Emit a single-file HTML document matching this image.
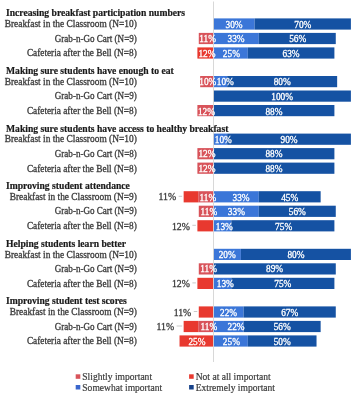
<!DOCTYPE html><html><head><meta charset="utf-8"><style>html,body{margin:0;padding:0;background:#fff;width:354px;height:400px;overflow:hidden}svg{display:block;will-change:transform;font-family:"Liberation Serif",serif}</style></head><body>
<svg width="354" height="400" viewBox="0 0 354 400">
<rect x="213.40" y="18.40" width="41.25" height="11.2" fill="#3b76d8"/>
<rect x="254.65" y="18.40" width="96.25" height="11.2" fill="#1552a3"/>
<rect x="213.40" y="32.90" width="45.38" height="11.2" fill="#3b76d8"/>
<rect x="258.77" y="32.90" width="77.00" height="11.2" fill="#1552a3"/>
<rect x="198.78" y="32.90" width="14.62" height="11.2" fill="#d8535a"/>
<rect x="213.40" y="47.40" width="34.38" height="11.2" fill="#3b76d8"/>
<rect x="247.78" y="47.40" width="86.62" height="11.2" fill="#1552a3"/>
<rect x="197.40" y="47.40" width="16.00" height="11.2" fill="#e8392f"/>
<rect x="213.40" y="76.00" width="13.75" height="11.2" fill="#3b76d8"/>
<rect x="227.15" y="76.00" width="110.00" height="11.2" fill="#1552a3"/>
<rect x="200.15" y="76.00" width="13.25" height="11.2" fill="#d8535a"/>
<rect x="213.40" y="90.50" width="137.50" height="11.2" fill="#1552a3"/>
<rect x="213.40" y="105.00" width="121.00" height="11.2" fill="#1552a3"/>
<rect x="197.40" y="105.00" width="16.00" height="11.2" fill="#d8535a"/>
<rect x="213.40" y="133.60" width="13.75" height="11.2" fill="#3b76d8"/>
<rect x="227.15" y="133.60" width="123.75" height="11.2" fill="#1552a3"/>
<rect x="213.40" y="148.10" width="121.00" height="11.2" fill="#1552a3"/>
<rect x="197.40" y="148.10" width="16.00" height="11.2" fill="#d8535a"/>
<rect x="213.40" y="162.60" width="121.00" height="11.2" fill="#1552a3"/>
<rect x="197.40" y="162.60" width="16.00" height="11.2" fill="#d8535a"/>
<rect x="213.40" y="191.20" width="45.38" height="11.2" fill="#3b76d8"/>
<rect x="258.77" y="191.20" width="61.88" height="11.2" fill="#1552a3"/>
<rect x="198.28" y="191.20" width="15.12" height="11.2" fill="#d8535a"/>
<rect x="183.65" y="191.20" width="14.62" height="11.2" fill="#e8392f"/>
<rect x="213.40" y="205.70" width="45.38" height="11.2" fill="#3b76d8"/>
<rect x="258.77" y="205.70" width="77.00" height="11.2" fill="#1552a3"/>
<rect x="198.78" y="205.70" width="14.62" height="11.2" fill="#d8535a"/>
<rect x="213.40" y="220.20" width="17.88" height="11.2" fill="#3b76d8"/>
<rect x="231.28" y="220.20" width="103.12" height="11.2" fill="#1552a3"/>
<rect x="197.40" y="220.20" width="16.00" height="11.2" fill="#e8392f"/>
<rect x="213.40" y="248.80" width="27.50" height="11.2" fill="#3b76d8"/>
<rect x="240.90" y="248.80" width="110.00" height="11.2" fill="#1552a3"/>
<rect x="213.40" y="263.30" width="122.38" height="11.2" fill="#1552a3"/>
<rect x="198.78" y="263.30" width="14.62" height="11.2" fill="#d8535a"/>
<rect x="213.40" y="277.80" width="17.88" height="11.2" fill="#3b76d8"/>
<rect x="231.28" y="277.80" width="103.12" height="11.2" fill="#1552a3"/>
<rect x="197.40" y="277.80" width="16.00" height="11.2" fill="#e8392f"/>
<rect x="213.40" y="306.40" width="30.25" height="11.2" fill="#3b76d8"/>
<rect x="243.65" y="306.40" width="92.12" height="11.2" fill="#1552a3"/>
<rect x="198.78" y="306.40" width="14.62" height="11.2" fill="#e8392f"/>
<rect x="213.40" y="320.90" width="30.25" height="11.2" fill="#3b76d8"/>
<rect x="243.65" y="320.90" width="77.00" height="11.2" fill="#1552a3"/>
<rect x="198.28" y="320.90" width="15.12" height="11.2" fill="#d8535a"/>
<rect x="183.65" y="320.90" width="14.62" height="11.2" fill="#e8392f"/>
<rect x="213.40" y="335.40" width="34.38" height="11.2" fill="#3b76d8"/>
<rect x="247.78" y="335.40" width="68.75" height="11.2" fill="#1552a3"/>
<rect x="179.53" y="335.40" width="33.88" height="11.2" fill="#e8392f"/>
<line x1="213.5" y1="1.5" x2="213.5" y2="362" stroke="#d4d4d4" stroke-width="0.9"/>
<text x="6" y="16.30" font-size="9.65" font-weight="bold" fill="#1a1a1a" stroke="#1a1a1a" stroke-width="0.2">Increasing breakfast participation numbers</text>
<text x="136.8" y="27.20" font-size="9.3" text-anchor="end" textLength="132.1" lengthAdjust="spacingAndGlyphs" fill="#3c3c3c" stroke="#3c3c3c" stroke-width="0.3">Breakfast in the Classroom (N=10)</text>
<text x="234.03" y="27.70" font-size="9.3" text-anchor="middle" fill="#fff" stroke="#fff" stroke-width="0.3">30%</text>
<text x="302.77" y="27.70" font-size="9.3" text-anchor="middle" fill="#fff" stroke="#fff" stroke-width="0.3">70%</text>
<text x="136.8" y="41.50" font-size="9.3" text-anchor="end" textLength="82.0" lengthAdjust="spacingAndGlyphs" fill="#3c3c3c" stroke="#3c3c3c" stroke-width="0.3">Grab-n-Go Cart (N=9)</text>
<text x="236.09" y="42.00" font-size="9.3" text-anchor="middle" fill="#fff" stroke="#fff" stroke-width="0.3">33%</text>
<text x="297.67" y="42.00" font-size="9.3" text-anchor="middle" fill="#fff" stroke="#fff" stroke-width="0.3">56%</text>
<text x="207.59" y="42.00" font-size="9.3" text-anchor="middle" fill="#fff" stroke="#fff" stroke-width="0.3">11%</text>
<text x="136.8" y="56.40" font-size="9.3" text-anchor="end" textLength="109.9" lengthAdjust="spacingAndGlyphs" fill="#3c3c3c" stroke="#3c3c3c" stroke-width="0.3">Cafeteria after the Bell (N=8)</text>
<text x="231.39" y="56.90" font-size="9.3" text-anchor="middle" fill="#fff" stroke="#fff" stroke-width="0.3">25%</text>
<text x="291.09" y="56.90" font-size="9.3" text-anchor="middle" fill="#fff" stroke="#fff" stroke-width="0.3">63%</text>
<text x="207.00" y="56.90" font-size="9.3" text-anchor="middle" fill="#fff" stroke="#fff" stroke-width="0.3">12%</text>
<text x="6" y="73.90" font-size="9.65" font-weight="bold" fill="#1a1a1a" stroke="#1a1a1a" stroke-width="0.2">Making sure students have enough to eat</text>
<text x="136.8" y="84.80" font-size="9.3" text-anchor="end" textLength="132.1" lengthAdjust="spacingAndGlyphs" fill="#3c3c3c" stroke="#3c3c3c" stroke-width="0.3">Breakfast in the Classroom (N=10)</text>
<text x="225.28" y="85.30" font-size="9.3" text-anchor="middle" fill="#fff" stroke="#fff" stroke-width="0.3">10%</text>
<text x="282.15" y="85.30" font-size="9.3" text-anchor="middle" fill="#fff" stroke="#fff" stroke-width="0.3">80%</text>
<text x="207.78" y="85.30" font-size="9.3" text-anchor="middle" fill="#fff" stroke="#fff" stroke-width="0.3">10%</text>
<text x="136.8" y="99.10" font-size="9.3" text-anchor="end" textLength="82.0" lengthAdjust="spacingAndGlyphs" fill="#3c3c3c" stroke="#3c3c3c" stroke-width="0.3">Grab-n-Go Cart (N=9)</text>
<text x="282.15" y="99.60" font-size="9.3" text-anchor="middle" fill="#fff" stroke="#fff" stroke-width="0.3">100%</text>
<text x="136.8" y="114.00" font-size="9.3" text-anchor="end" textLength="109.9" lengthAdjust="spacingAndGlyphs" fill="#3c3c3c" stroke="#3c3c3c" stroke-width="0.3">Cafeteria after the Bell (N=8)</text>
<text x="273.90" y="114.50" font-size="9.3" text-anchor="middle" fill="#fff" stroke="#fff" stroke-width="0.3">88%</text>
<text x="206.50" y="114.50" font-size="9.3" text-anchor="middle" fill="#fff" stroke="#fff" stroke-width="0.3">12%</text>
<text x="6" y="131.50" font-size="9.65" font-weight="bold" fill="#1a1a1a" stroke="#1a1a1a" stroke-width="0.2">Making sure students have access to healthy breakfast</text>
<text x="136.8" y="142.40" font-size="9.3" text-anchor="end" textLength="132.1" lengthAdjust="spacingAndGlyphs" fill="#3c3c3c" stroke="#3c3c3c" stroke-width="0.3">Breakfast in the Classroom (N=10)</text>
<text x="223.28" y="142.90" font-size="9.3" text-anchor="middle" fill="#fff" stroke="#fff" stroke-width="0.3">10%</text>
<text x="289.02" y="142.90" font-size="9.3" text-anchor="middle" fill="#fff" stroke="#fff" stroke-width="0.3">90%</text>
<text x="136.8" y="156.70" font-size="9.3" text-anchor="end" textLength="82.0" lengthAdjust="spacingAndGlyphs" fill="#3c3c3c" stroke="#3c3c3c" stroke-width="0.3">Grab-n-Go Cart (N=8)</text>
<text x="273.90" y="157.20" font-size="9.3" text-anchor="middle" fill="#fff" stroke="#fff" stroke-width="0.3">88%</text>
<text x="207.00" y="157.20" font-size="9.3" text-anchor="middle" fill="#fff" stroke="#fff" stroke-width="0.3">12%</text>
<text x="136.8" y="171.60" font-size="9.3" text-anchor="end" textLength="109.9" lengthAdjust="spacingAndGlyphs" fill="#3c3c3c" stroke="#3c3c3c" stroke-width="0.3">Cafeteria after the Bell (N=8)</text>
<text x="273.90" y="172.10" font-size="9.3" text-anchor="middle" fill="#fff" stroke="#fff" stroke-width="0.3">88%</text>
<text x="207.00" y="172.10" font-size="9.3" text-anchor="middle" fill="#fff" stroke="#fff" stroke-width="0.3">12%</text>
<text x="6" y="189.10" font-size="9.65" font-weight="bold" fill="#1a1a1a" stroke="#1a1a1a" stroke-width="0.2">Improving student attendance</text>
<text x="136.8" y="200.00" font-size="9.3" text-anchor="end" textLength="127.1" lengthAdjust="spacingAndGlyphs" fill="#3c3c3c" stroke="#3c3c3c" stroke-width="0.3">Breakfast in the Classroom (N=9)</text>
<text x="241.09" y="200.50" font-size="9.3" text-anchor="middle" fill="#fff" stroke="#fff" stroke-width="0.3">33%</text>
<text x="289.71" y="200.50" font-size="9.3" text-anchor="middle" fill="#fff" stroke="#fff" stroke-width="0.3">45%</text>
<text x="207.84" y="200.50" font-size="9.3" text-anchor="middle" fill="#fff" stroke="#fff" stroke-width="0.3">11%</text>
<line x1="178.65" y1="196.30" x2="182.15" y2="196.30" stroke="#bbbbbb" stroke-width="0.8"/>
<text x="176.15" y="200.40" font-size="9.8" text-anchor="end" fill="#3c3c3c" stroke="#3c3c3c" stroke-width="0.3">11%</text>
<text x="136.8" y="214.30" font-size="9.3" text-anchor="end" textLength="82.0" lengthAdjust="spacingAndGlyphs" fill="#3c3c3c" stroke="#3c3c3c" stroke-width="0.3">Grab-n-Go Cart (N=9)</text>
<text x="236.39" y="214.80" font-size="9.3" text-anchor="middle" fill="#fff" stroke="#fff" stroke-width="0.3">33%</text>
<text x="297.27" y="214.80" font-size="9.3" text-anchor="middle" fill="#fff" stroke="#fff" stroke-width="0.3">56%</text>
<text x="208.89" y="214.80" font-size="9.3" text-anchor="middle" fill="#fff" stroke="#fff" stroke-width="0.3">11%</text>
<text x="136.8" y="229.20" font-size="9.3" text-anchor="end" textLength="109.9" lengthAdjust="spacingAndGlyphs" fill="#3c3c3c" stroke="#3c3c3c" stroke-width="0.3">Cafeteria after the Bell (N=8)</text>
<text x="224.34" y="229.70" font-size="9.3" text-anchor="middle" fill="#fff" stroke="#fff" stroke-width="0.3">13%</text>
<text x="283.64" y="229.70" font-size="9.3" text-anchor="middle" fill="#fff" stroke="#fff" stroke-width="0.3">75%</text>
<line x1="192.40" y1="225.30" x2="195.90" y2="225.30" stroke="#bbbbbb" stroke-width="0.8"/>
<text x="189.90" y="229.60" font-size="9.8" text-anchor="end" fill="#3c3c3c" stroke="#3c3c3c" stroke-width="0.3">12%</text>
<text x="6" y="246.70" font-size="9.65" font-weight="bold" fill="#1a1a1a" stroke="#1a1a1a" stroke-width="0.2">Helping students learn better</text>
<text x="136.8" y="257.60" font-size="9.3" text-anchor="end" textLength="132.1" lengthAdjust="spacingAndGlyphs" fill="#3c3c3c" stroke="#3c3c3c" stroke-width="0.3">Breakfast in the Classroom (N=10)</text>
<text x="227.15" y="258.10" font-size="9.3" text-anchor="middle" fill="#fff" stroke="#fff" stroke-width="0.3">20%</text>
<text x="295.90" y="258.10" font-size="9.3" text-anchor="middle" fill="#fff" stroke="#fff" stroke-width="0.3">80%</text>
<text x="136.8" y="271.90" font-size="9.3" text-anchor="end" textLength="82.0" lengthAdjust="spacingAndGlyphs" fill="#3c3c3c" stroke="#3c3c3c" stroke-width="0.3">Grab-n-Go Cart (N=9)</text>
<text x="274.59" y="272.40" font-size="9.3" text-anchor="middle" fill="#fff" stroke="#fff" stroke-width="0.3">89%</text>
<text x="208.59" y="272.40" font-size="9.3" text-anchor="middle" fill="#fff" stroke="#fff" stroke-width="0.3">11%</text>
<text x="136.8" y="286.80" font-size="9.3" text-anchor="end" textLength="109.9" lengthAdjust="spacingAndGlyphs" fill="#3c3c3c" stroke="#3c3c3c" stroke-width="0.3">Cafeteria after the Bell (N=8)</text>
<text x="225.34" y="287.30" font-size="9.3" text-anchor="middle" fill="#fff" stroke="#fff" stroke-width="0.3">13%</text>
<text x="282.84" y="287.30" font-size="9.3" text-anchor="middle" fill="#fff" stroke="#fff" stroke-width="0.3">75%</text>
<line x1="192.40" y1="282.90" x2="195.90" y2="282.90" stroke="#bbbbbb" stroke-width="0.8"/>
<text x="189.90" y="287.20" font-size="9.8" text-anchor="end" fill="#3c3c3c" stroke="#3c3c3c" stroke-width="0.3">12%</text>
<text x="6" y="304.30" font-size="9.65" font-weight="bold" fill="#1a1a1a" stroke="#1a1a1a" stroke-width="0.2">Improving student test scores</text>
<text x="136.8" y="315.20" font-size="9.3" text-anchor="end" textLength="127.1" lengthAdjust="spacingAndGlyphs" fill="#3c3c3c" stroke="#3c3c3c" stroke-width="0.3">Breakfast in the Classroom (N=9)</text>
<text x="228.53" y="315.70" font-size="9.3" text-anchor="middle" fill="#fff" stroke="#fff" stroke-width="0.3">22%</text>
<text x="289.71" y="315.70" font-size="9.3" text-anchor="middle" fill="#fff" stroke="#fff" stroke-width="0.3">67%</text>
<line x1="193.78" y1="311.50" x2="197.28" y2="311.50" stroke="#bbbbbb" stroke-width="0.8"/>
<text x="191.28" y="315.60" font-size="9.8" text-anchor="end" fill="#3c3c3c" stroke="#3c3c3c" stroke-width="0.3">11%</text>
<text x="136.8" y="329.50" font-size="9.3" text-anchor="end" textLength="82.0" lengthAdjust="spacingAndGlyphs" fill="#3c3c3c" stroke="#3c3c3c" stroke-width="0.3">Grab-n-Go Cart (N=9)</text>
<text x="236.03" y="330.00" font-size="9.3" text-anchor="middle" fill="#fff" stroke="#fff" stroke-width="0.3">22%</text>
<text x="282.15" y="330.00" font-size="9.3" text-anchor="middle" fill="#fff" stroke="#fff" stroke-width="0.3">56%</text>
<text x="208.84" y="330.00" font-size="9.3" text-anchor="middle" fill="#fff" stroke="#fff" stroke-width="0.3">11%</text>
<line x1="176.65" y1="326.00" x2="182.15" y2="326.00" stroke="#bbbbbb" stroke-width="0.8"/>
<text x="174.15" y="329.90" font-size="9.8" text-anchor="end" fill="#3c3c3c" stroke="#3c3c3c" stroke-width="0.3">11%</text>
<text x="136.8" y="344.40" font-size="9.3" text-anchor="end" textLength="109.9" lengthAdjust="spacingAndGlyphs" fill="#3c3c3c" stroke="#3c3c3c" stroke-width="0.3">Cafeteria after the Bell (N=8)</text>
<text x="231.39" y="344.90" font-size="9.3" text-anchor="middle" fill="#fff" stroke="#fff" stroke-width="0.3">25%</text>
<text x="282.15" y="344.90" font-size="9.3" text-anchor="middle" fill="#fff" stroke="#fff" stroke-width="0.3">50%</text>
<text x="196.96" y="344.90" font-size="9.3" text-anchor="middle" fill="#fff" stroke="#fff" stroke-width="0.3">25%</text>
<rect x="75.7" y="374.3" width="4.6" height="4.5" fill="#d8535a"/>
<text x="82.30" y="380.00" font-size="9.55" fill="#3c3c3c" stroke="#3c3c3c" stroke-width="0.2">Slightly important</text>
<rect x="189.1" y="374.3" width="4.6" height="4.5" fill="#e8392f"/>
<text x="195.70" y="380.00" font-size="9.55" fill="#3c3c3c" stroke="#3c3c3c" stroke-width="0.2">Not at all important</text>
<rect x="75.7" y="385.0" width="4.6" height="4.5" fill="#3a66cc"/>
<text x="82.30" y="390.70" font-size="9.55" fill="#3c3c3c" stroke="#3c3c3c" stroke-width="0.2">Somewhat important</text>
<rect x="189.1" y="385.0" width="4.6" height="4.5" fill="#17428a"/>
<text x="195.70" y="390.70" font-size="9.55" fill="#3c3c3c" stroke="#3c3c3c" stroke-width="0.2">Extremely important</text>
</svg></body></html>
